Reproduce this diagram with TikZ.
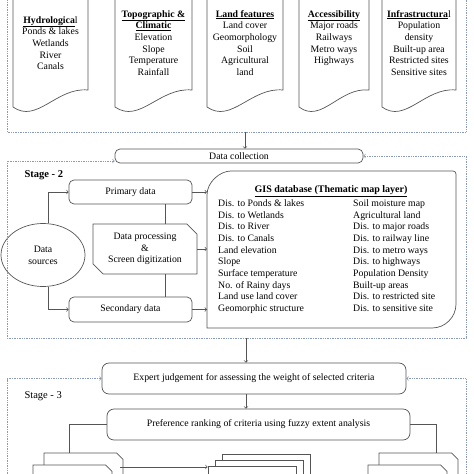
\documentclass[tikz,border=0pt]{standalone}
\usepackage{fontspec}
\setmainfont{Liberation Serif}
\usetikzlibrary{shapes,positioning,arrows,calc}

\definecolor{framegray}{RGB}{140,155,180}
\definecolor{linegray}{RGB}{85,85,85}

\tikzset{
  line/.style={draw=linegray, line width=0.7pt},
  arr/.style={line, ->, >=to},
  frame/.style={draw=framegray, densely dotted, line width=0.7pt, >=to},
  rbox/.style={line, rounded corners=5pt, fill=white, inner sep=1pt, align=center},
  chbox/.style={line, chamfered rectangle, chamfered rectangle corners=north east,
    chamfered rectangle xsep=7pt, fill=white, minimum width=79pt, minimum height=60pt},
  pbox/.style={line, rectangle, fill=white, minimum width=88pt, minimum height=60pt},
  cat/.style={align=center, anchor=north, inner sep=0pt},
  stagelabel/.style={anchor=west, font=\fontsize{10.5}{12}\selectfont},
}

\begin{document}
\begin{tikzpicture}[x=1pt,y=-1pt,font=\fontsize{9.8}{11.7}\selectfont]
\useasboundingbox (0,0) rectangle (474,474);
\clip (0,0) rectangle (474,474);

% stage 1
\draw[frame] (7,-5) -- (7,132) -- (466,132) -- (466,-5);
\foreach \xa/\xb in {13/88,115/192,207/283,299/369,382/456} {
  \pgfmathsetmacro\ca{\xa+0.32*(\xb-\xa)}
  \pgfmathsetmacro\cb{\xa+0.58*(\xb-\xa)}
  \draw[line] (\xa,-5) -- (\xa,107) .. controls (\ca,124) and (\cb,87) .. (\xb,90) -- (\xb,-5);
}
\node[cat] (hydro) at (50.5,16) {\underline{\textbf{Hydrologica}}l\\Ponds \& lakes\\Wetlands\\River\\Canals};
\node[cat] (topo) at (153.5,10) {\underline{\textbf{Topographic \&}}\\\underline{\textbf{Climatic}}\\Elevation\\Slope\\Temperature\\Rainfall};
\node[cat] (landf) at (245,10) {\underline{\textbf{Land features}}\\Land cover\\Geomorphology\\Soil\\Agricultural\\land};
\node[cat] (access) at (334,10) {\underline{\textbf{Accessibility}}\\Major roads\\Railways\\Metro ways\\Highways};
\node[cat] (infra) at (419,10) {\underline{\textbf{Infrastructura}}l\\Population\\density\\Built-up area\\Restricted sites\\Sensitive sites};

\coordinate (s1) at (245,132);
\node[rbox, minimum width=248pt, minimum height=14pt] (dc) at (239,156) {Data collection};
\draw[arr] (s1) -- (s1 |- dc.north);

% stage 2
\node[stagelabel, font=\fontsize{10.5}{12}\selectfont\bfseries] (st2) at (21,175) {Stage - 2};
\node[rbox, minimum width=123pt, minimum height=24pt] (prim) at (130.5,192) {Primary data};
\node[rbox, minimum width=123pt, minimum height=25pt] (sec) at (130.5,309.5) {Secondary data};
\node[line, ellipse, minimum width=84pt, minimum height=63pt, align=center, inner sep=0pt] (src) at (43,255) {Data\\sources};
\node[line, chamfered rectangle, chamfered rectangle corners={north east,south west},
  chamfered rectangle xsep=7pt, minimum width=104pt, minimum height=50pt, align=center] (proc) at (145,249)
  {Data processing\\\&\\Screen digitization};

\coordinate (vx) at (165,0);
\draw[line] (prim.south -| vx) -- (proc.north -| vx);
\draw[line] (proc.south -| vx) -- (sec.north -| vx);
\draw[arr] ([xshift=5pt]src.north) |- (prim.west);
\draw[arr] ([xshift=5pt]src.south) |- (sec.west);

\coordinate (gisw) at (207,0);
\draw[line] (207,328) -- (207,195) .. controls (207,181.8) and (220.2,171) .. (231,171)
  -- (453,171) .. controls (454.7,171) and (456,172.3) .. (456,174)
  -- (456,304) .. controls (456,317.2) and (445.2,328) .. (432,328) -- cycle;
\draw[arr] (prim.east) -- (prim.east -| gisw);
\draw[arr] (proc.east) -- (proc.east -| gisw);
\draw[arr] (sec.east) -- (sec.east -| gisw);

\node[font=\bfseries] (gistitle) at (331,191) {\underline{GIS database (Thematic map layer)}};
\node[anchor=north west, inner sep=0pt] (gislist) at (218,198) {%
  \begin{tabular}{@{}p{135pt}@{}l@{}}
  Dis. to Ponds \& lakes & Soil moisture map\\
  Dis. to Wetlands & Agricultural land\\
  Dis. to River & Dis. to major roads\\
  Dis. to Canals & Dis. to railway line\\
  Land elevation & Dis. to metro ways\\
  Slope & Dis. to highways\\
  Surface temperature & Population Density\\
  No. of Rainy days & Built-up areas\\
  Land use land cover & Dis. to restricted site\\
  Geomorphic structure & Dis. to sensitive site
  \end{tabular}};

\coordinate (f2l) at (7,338);
\coordinate (f2r) at (466,338);
\draw[frame,<->] ([yshift=-5pt]dc.west) -| (f2l) -- (f2r) |- (dc.east);

% stage 3
\coordinate (s2) at (246,338);
\node[rbox, rounded corners=7pt, minimum width=304pt, minimum height=31pt] (exp) at (254,378.5)
  {Expert judgement for assessing the weight of selected criteria};
\draw[arr] (s2) -- (s2 |- exp.north);
\node[stagelabel] (st3) at (21,396) {Stage - 3};
\draw[frame,<-] (exp.west) -- (exp.west -| f2l) -- ++(0,100);
\draw[frame,<-] (exp.east) -- (exp.east -| f2r) -- ++(0,100);

\node[rbox, rounded corners=7pt, minimum width=303pt, minimum height=31pt] (pref) at (258.5,424.5)
  {Preference ranking of criteria using fuzzy extent analysis};
\draw[arr] (exp.south -| s2) -- (pref.north -| s2);

\node[chbox] (critb) at (83.5,483) {};
\node[chbox] (critf) at (72.5,495) {};
\draw[line] (pref.west) -| ([xshift=26pt]critb.north west);

\node[pbox] (mat3) at (266,484) {};
\node[pbox] (mat2) at (259.5,490) {};
\node[pbox] (mat1) at (252,496) {};
\draw[arr] ([yshift=-11pt]critb.north east) -- ([yshift=-11pt]critb.north east -| mat1.west);

\node[chbox] (resb) at (418.5,483) {};
\node[chbox] (resf) at (407.5,495) {};
\draw[line] (pref.east) -| ([xshift=58pt]resb.north west);
\end{tikzpicture}
\end{document}
